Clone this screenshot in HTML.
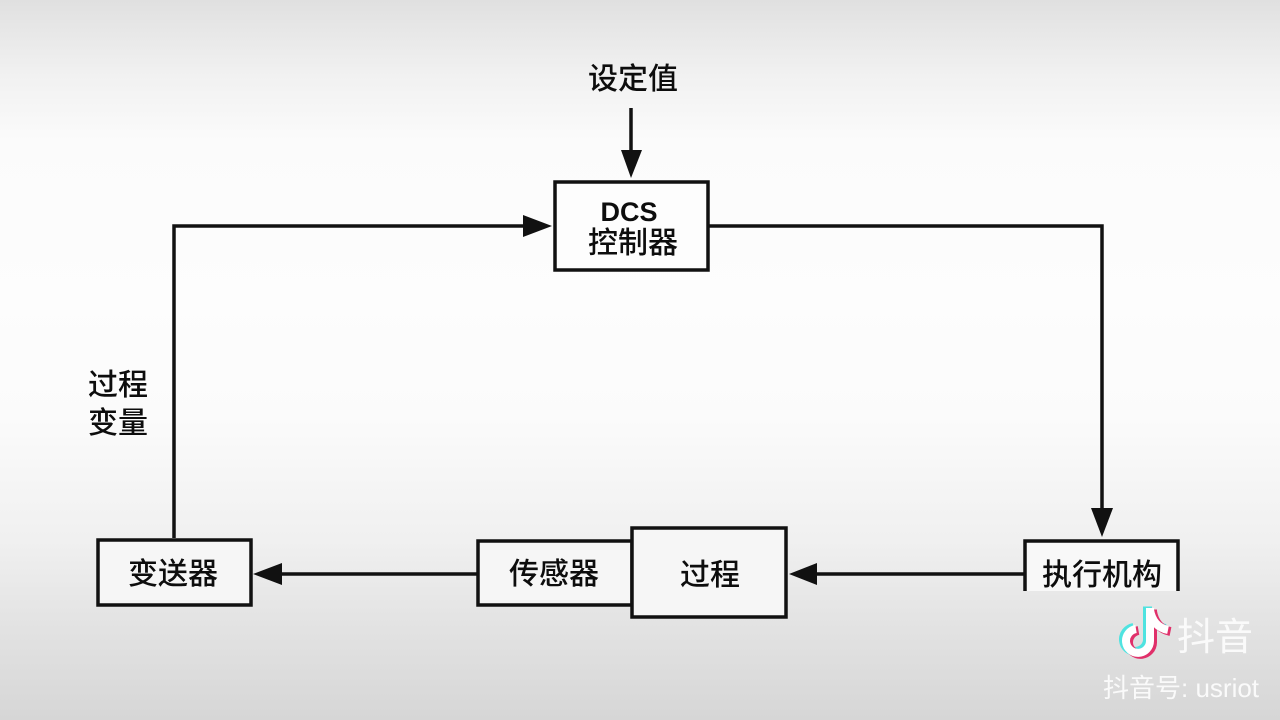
<!DOCTYPE html>
<html>
<head>
<meta charset="utf-8">
<style>
html,body{margin:0;padding:0;}
body{width:1280px;height:720px;overflow:hidden;
background:linear-gradient(to bottom,#e0e0e0 0px,#f0f0f0 70px,#fbfbfb 140px,#fdfdfd 300px,#fbfbfb 420px,#f0f0f0 540px,#e2e2e2 630px,#d6d6d6 720px);}
svg{position:absolute;left:0;top:0;}
.t{font-family:"Liberation Sans","Noto Sans CJK SC",sans-serif;font-weight:500;fill:#0d0d0d;}
.w{font-family:"Liberation Sans","Noto Sans CJK SC",sans-serif;fill:#fafafa;}
</style>
</head>
<body>
<svg width="1280" height="720" viewBox="0 0 1280 720">
  <g stroke="#111" stroke-width="3.5" fill="none">
    <line x1="631" y1="108" x2="631" y2="152"/>
    <polyline points="174,538 174,226 526,226"/>
    <polyline points="709,226 1102,226 1102,510"/>
    <line x1="1024" y1="574" x2="815" y2="574"/>
    <line x1="477" y1="574" x2="280" y2="574"/>
    <rect x="555" y="182" width="153" height="88" fill="#fdfdfd"/>
    <rect x="98" y="540" width="153" height="65" fill="#f6f6f6"/>
    <rect x="478" y="541" width="154" height="64" fill="#f6f6f6"/>
    <rect x="632" y="528" width="154" height="89" fill="#f6f6f6"/>
    <polyline points="1025,591 1025,541 1178,541 1178,591" fill="#f8f8f8"/>
  </g>
  <g fill="#111">
    <polygon points="621,150 642,150 631,178"/>
    <polygon points="523,215 523,237 552,226"/>
    <polygon points="1091,508 1113,508 1102,537"/>
    <polygon points="817,563 817,585 789,574"/>
    <polygon points="282,563 282,585 253,574"/>
  </g>
  <text class="t" x="633" y="89" font-size="30" text-anchor="middle">设定值</text>
  <text x="629" y="221" font-size="27" font-weight="bold" fill="#0d0d0d" font-family="'Liberation Sans', sans-serif" text-anchor="middle">DCS</text>
  <text class="t" x="633" y="253" font-size="30" text-anchor="middle">控制器</text>
  <text class="t" x="118" y="395" font-size="30" text-anchor="middle">过程</text>
  <text class="t" x="118" y="433" font-size="30" text-anchor="middle">变量</text>
  <text class="t" x="173" y="584" font-size="30" text-anchor="middle">变送器</text>
  <text class="t" x="554" y="584" font-size="30" text-anchor="middle">传感器</text>
  <text class="t" x="710" y="585" font-size="30" text-anchor="middle">过程</text>
  <text class="t" x="1102" y="585" font-size="30" text-anchor="middle">执行机构</text>
  <g fill="none" stroke-linecap="butt" stroke-linejoin="round">
    <g transform="translate(-2.5,-1.5)" stroke="#4fe3e0" stroke-width="9">
      <path d="M1150,608 L1150,641 A12,12 0 1 1 1136,629"/>
      <path d="M1150,610 Q1153,627 1168,630"/>
    </g>
    <g transform="translate(2.5,1.5)" stroke="#e0306a" stroke-width="9">
      <path d="M1150,608 L1150,641 A12,12 0 1 1 1136,629"/>
      <path d="M1150,610 Q1153,627 1168,630"/>
    </g>
    <g stroke="#ffffff" stroke-width="8">
      <path d="M1150,608 L1150,641 A12,12 0 1 1 1136,629"/>
      <path d="M1150,610 Q1153,627 1168,630"/>
    </g>
  </g>
  <text class="w" x="1177" y="650" font-size="38">抖音</text>
  <text class="w" x="1103" y="697" font-size="26">抖音号: usriot</text>
</svg>
</body>
</html>
